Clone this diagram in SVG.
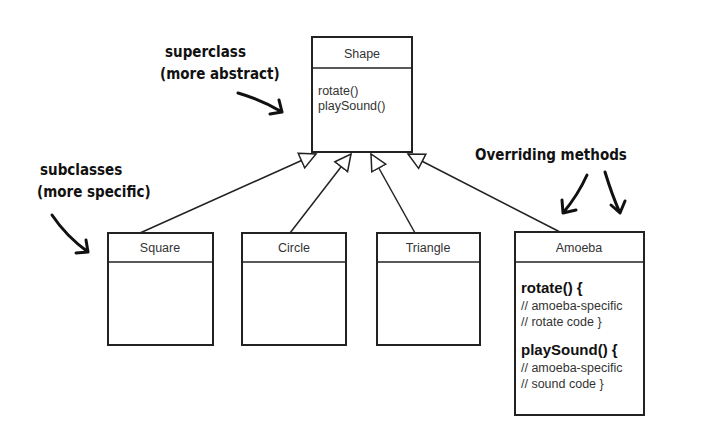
<svg xmlns="http://www.w3.org/2000/svg" width="725" height="435" viewBox="0 0 725 435">
<defs>
<style>
.box{fill:#fff;stroke:#222;stroke-width:2}
.t{font-family:"Liberation Sans",Arial,sans-serif;font-size:12.5px;fill:#333}
.b{font-family:"Liberation Sans",Arial,sans-serif;font-size:15px;font-weight:bold;fill:#111}
.h{font-family:"DejaVu Sans Condensed","DejaVu Sans",sans-serif;font-size:15px;font-weight:bold;fill:#111}
.c{stroke:#222;stroke-width:1.5;fill:none}
.a{stroke:#111;stroke-width:3;fill:none;stroke-linecap:round;stroke-linejoin:round}
</style>
<marker id="tri" markerWidth="20" markerHeight="20" refX="17" refY="10" orient="auto" markerUnits="userSpaceOnUse">
<path d="M1,2 L17,10 L1,18 Z" fill="#fff" stroke="#222" stroke-width="1.5"/>
</marker>
</defs>
<rect width="725" height="435" fill="#fff"/>
<g id="connectors">
<line class="c" x1="140" y1="233" x2="316" y2="154" marker-end="url(#tri)"/>
<line class="c" x1="290" y1="233" x2="351" y2="154" marker-end="url(#tri)"/>
<line class="c" x1="415" y1="233" x2="371" y2="154" marker-end="url(#tri)"/>
<line class="c" x1="560" y1="232" x2="408" y2="154" marker-end="url(#tri)"/>
</g>
<g id="shape">
<rect class="box" x="312" y="37" width="100" height="115"/>
<line class="c" x1="312" y1="68" x2="412" y2="68"/>
<text class="t" x="362" y="58" text-anchor="middle">Shape</text>
<text class="t" x="318" y="95">rotate()</text>
<text class="t" x="318" y="110">playSound()</text>
</g>
<g id="square">
<rect class="box" x="108" y="233" width="105" height="112"/>
<line class="c" x1="108" y1="262" x2="213" y2="262"/>
<text class="t" x="160" y="252" text-anchor="middle">Square</text>
</g>
<g id="circle">
<rect class="box" x="242" y="233" width="104" height="112"/>
<line class="c" x1="242" y1="262" x2="346" y2="262"/>
<text class="t" x="294" y="252" text-anchor="middle">Circle</text>
</g>
<g id="triangle">
<rect class="box" x="377" y="233" width="103" height="112"/>
<line class="c" x1="377" y1="262" x2="480" y2="262"/>
<text class="t" x="428" y="252" text-anchor="middle">Triangle</text>
</g>
<g id="amoeba">
<rect class="box" x="515" y="232" width="129" height="183"/>
<line class="c" x1="515" y1="262" x2="644" y2="262"/>
<text class="t" x="579" y="252" text-anchor="middle">Amoeba</text>
<text class="b" x="521" y="293">rotate() {</text>
<text class="t" x="521" y="310">// amoeba-specific</text>
<text class="t" x="521" y="326">// rotate code }</text>
<text class="b" x="521" y="355">playSound() {</text>
<text class="t" x="521" y="372">// amoeba-specific</text>
<text class="t" x="521" y="388">// sound code }</text>
</g>
<g id="annotations">
<text class="h" x="165" y="57">superclass</text>
<text class="h" x="160" y="79">(more abstract)</text>
<path class="a" d="M238,93 Q262,100 282,112 M270,114 L282,112 L279,100"/>
<text class="h" x="40" y="175">subclasses</text>
<text class="h" x="37" y="197">(more specific)</text>
<path class="a" d="M52,215 Q66,236 88,252 M76,253 L88,252 L86,240"/>
<text class="h" x="475" y="160">Overriding methods</text>
<path class="a" d="M587,175 Q578,195 563,213 M562,200 L563,213 L576,210"/>
<path class="a" d="M605,172 Q612,195 620,213 M611,205 L620,213 L625,201"/>
</g>
</svg>
